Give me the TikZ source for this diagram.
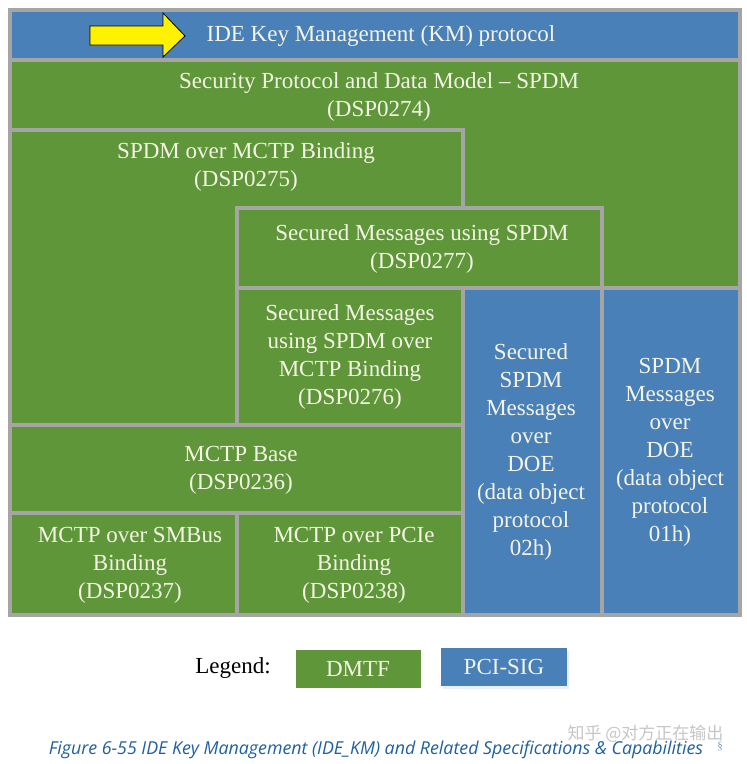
\documentclass[tikz,border=0pt]{standalone}
\usepackage{fontspec}
\setmainfont{Liberation Serif}
\newfontfamily\capfont{Open Sans}
\newfontfamily\cjk{Noto Sans CJK SC}
\definecolor{dgreen}{HTML}{5F963A}
\definecolor{pblue}{HTML}{4A80B8}
\definecolor{bord}{HTML}{A5A5A5}
\definecolor{txt}{HTML}{F4F4E4}
\definecolor{capblue}{HTML}{1F5FA0}
\begin{document}
\begin{tikzpicture}[x=1pt,y=-1pt,
  gbox/.style={fill=dgreen,draw=bord,line width=3.5pt},
  bbox/.style={fill=pblue,draw=bord,line width=3.5pt},
  lbl/.style={text=txt,font=\fontsize{23}{28}\selectfont,align=center},
  ]
\useasboundingbox (0,0) rectangle (747,764);
\fill[white] (0,0) rectangle (747,764);
% regions
\path[bbox] (10,10) rectangle (740,60);
\path[gbox] (10,60) -- (740,60) -- (740,288) -- (602,288) -- (602,208) -- (463,208) -- (463,130) -- (10,130) -- cycle;
\path[gbox] (10,130) -- (463,130) -- (463,208) -- (237,208) -- (237,425) -- (10,425) -- cycle;
\path[gbox] (237,208) rectangle (602,288);
\path[gbox] (237,288) rectangle (463,425);
\path[bbox] (463,288) rectangle (602,615);
\path[bbox] (602,288) rectangle (740,615);
\path[gbox] (10,425) rectangle (463,513);
\path[gbox] (10,513) rectangle (237,615);
\path[gbox] (237,513) rectangle (463,615);
\draw[bord,line width=3.5pt] (10,10) rectangle (740,615);
% arrow
\draw[fill=yellow,draw=black,line width=0.8pt] (90,26) -- (163,26) -- (163,13) -- (185,36) -- (163,57) -- (163,45) -- (90,45) -- cycle;
% labels
\node[lbl] (km) at (381,36) {IDE Key Management (KM) protocol};
\node[lbl] (spdm) at (379,97) {Security Protocol and Data Model -- SPDM\\(DSP0274)};
\node[lbl] (smctp) at (246,167) {SPDM over MCTP Binding\\(DSP0275)};
\node[lbl] (sec) at (422,249) {Secured Messages using SPDM\\(DSP0277)};
\node[lbl] (secm) at (350,357) {Secured Messages\\using SPDM over\\MCTP Binding\\(DSP0276)};
\node[lbl] (secdoe) at (531,452) {Secured\\SPDM\\Messages\\over\\DOE\\(data object\\protocol\\02h)};
\node[lbl] (doe) at (670,452) {SPDM\\Messages\\over\\DOE\\(data object\\protocol\\01h)};
\node[lbl] (base) at (241,470) {MCTP Base\\(DSP0236)};
\node[lbl] (smb) at (130,565) {MCTP over SMBus\\Binding\\(DSP0237)};
\node[lbl] (pcie) at (354,565) {MCTP over PCIe\\Binding\\(DSP0238)};
% legend
\node[font=\fontsize{23}{26}\selectfont] (leg) at (233,668) {Legend:};
\node[fill=pblue!40,opacity=0.3,minimum width=126pt,minimum height=38pt] (shadow) at (506,670) {};
\node[fill=dgreen,lbl,minimum width=125pt,minimum height=38pt] (dmtf) at (358,669) {DMTF};
\node[fill=pblue,lbl,minimum width=126pt,minimum height=38pt] (pci) at (504,667) {PCI-SIG};
% watermark & caption
\node[text=gray!45,font=\cjk\fontsize{17}{20}\selectfont,anchor=east] (wm) at (727,734) {知乎 @对方正在输出};
\node[text=capblue,font=\capfont\itshape\fontsize{17.8}{20}\selectfont] (cap) at (376,750) {Figure 6-55 IDE Key Management (IDE\_KM) and Related Specifications \& Capabilities};
\node[text=capblue!60,font=\fontsize{11}{12}\selectfont] (sect) at (720,746) {\S};
\end{tikzpicture}
\end{document}
